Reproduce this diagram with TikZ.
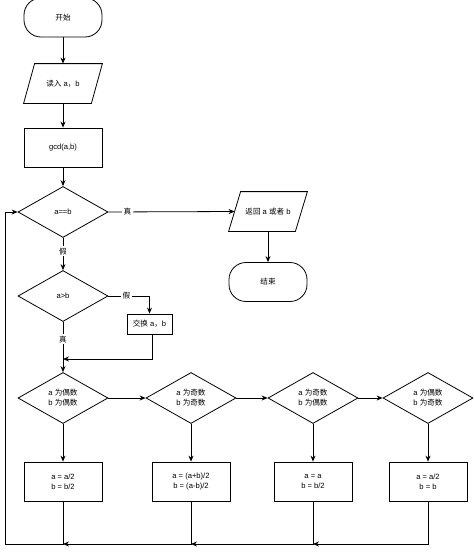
\documentclass[tikz,border=0pt]{standalone}
\usepackage{fontspec}
\setmainfont{Liberation Sans}
\newfontfamily\cjk{Noto Sans CJK SC}
\usetikzlibrary{shapes.geometric,arrows.meta}
\begin{document}
\begin{tikzpicture}[x=1pt,y=-1pt,
  font=\fontsize{7.6}{10}\selectfont,
  line width=0.8pt,
  box/.style={draw, minimum width=78pt, minimum height=39pt, inner sep=0pt, align=center},
  term/.style={draw, rounded corners=17pt, minimum width=78pt, minimum height=39pt, inner sep=0pt},
  io/.style={minimum width=78pt, minimum height=39pt, inner sep=0pt},
  dec/.style={draw, diamond, minimum width=90pt, minimum height=51pt, inner sep=0pt, align=center},
  arr/.style={-{Stealth[length=6pt,width=5pt]}},
  lbl/.style={fill=white, inner sep=1.5pt}]
\useasboundingbox (0,0) rectangle (474,552);

% top column
\node[term] (start) at (63,17.5) {\cjk 开始};
\node[io] (read) at (63,83.5) {{\cjk 读入} a{\cjk ，}b};
\draw ([xshift=11pt]read.north west) -- (read.north east) -- ([xshift=-11pt]read.south east) -- (read.south west) -- cycle;
\node[box] (gcd) at (63,147.5) {gcd(a,b)};
\node[dec] (d1) at (63,212) {a==b};
\node[dec] (d2) at (63,296) {a>b};
\node[box, minimum width=45pt, minimum height=20pt] (swap) at (149.5,324) {{\cjk 交换} a{\cjk ，}b};

% right side
\node[io] (ret) at (268,211.5) {{\cjk 返回} a {\cjk 或者} b};
\draw ([xshift=12pt]ret.north west) -- (ret.north east) -- ([xshift=-12pt]ret.south east) -- (ret.south west) -- cycle;
\node[term] (end) at (268,282) {\cjk 结束};

% bottom row
\node[dec] (dA) at (63,398) {a {\cjk 为偶数}\\b {\cjk 为偶数}};
\node[dec] (dB) at (191,398) {a {\cjk 为奇数}\\b {\cjk 为奇数}};
\node[dec] (dC) at (313,398) {a {\cjk 为奇数}\\b {\cjk 为偶数}};
\node[dec] (dD) at (428,398) {a {\cjk 为偶数}\\b {\cjk 为奇数}};
\node[box] (rA) at (63,481.5) {a = a/2\\b = b/2};
\node[box] (rB) at (191,481.5) {a = (a+b)/2\\b = (a-b)/2};
\node[box] (rC) at (313,481.5) {a = a\\b = b/2};
\node[box] (rD) at (428,481.5) {a = a/2\\b = b};

\coordinate (j1) at (63,359);
\coordinate (bA) at (63,544);
\coordinate (bB) at (191,544);
\coordinate (bC) at (313,544);
\coordinate (lpb) at (5,544);
\coordinate (lpt) at (5,212);

% connectors
\draw[arr] (start) -- (read);
\draw[arr] (read) -- (gcd);
\draw[arr] (gcd) -- (d1);
\draw[arr] (d1.east) -- node[lbl,pos=0.15]{\cjk 真} ([xshift=6pt]ret.west);
\draw[arr] (ret) -- (end);
\draw[arr] (d1) -- node[lbl,pos=0.42]{\cjk 假} (d2);
\draw[arr] (d2.east) -| node[lbl,pos=0.22]{\cjk 假} (swap.north);
\draw[arr] (d2) -- node[lbl,pos=0.35]{\cjk 真} (dA);
\draw[arr] ([xshift=3pt]swap.south) |- (j1);
\draw[arr] (dA) -- (dB);
\draw[arr] (dB) -- (dC);
\draw[arr] (dC) -- (dD);
\draw[arr] (dA) -- (rA);
\draw[arr] (dB) -- (rB);
\draw[arr] (dC) -- (rC);
\draw[arr] (dD) -- (rD);
\draw[arr] (rD.south) |- (bC);
\draw[arr] (rC.south) |- (bB);
\draw[arr] (rB.south) |- (bA);
\draw[arr] (rA.south) -- (bA) -- (lpb) -- (lpt) -- (d1.west);
\end{tikzpicture}
\end{document}
